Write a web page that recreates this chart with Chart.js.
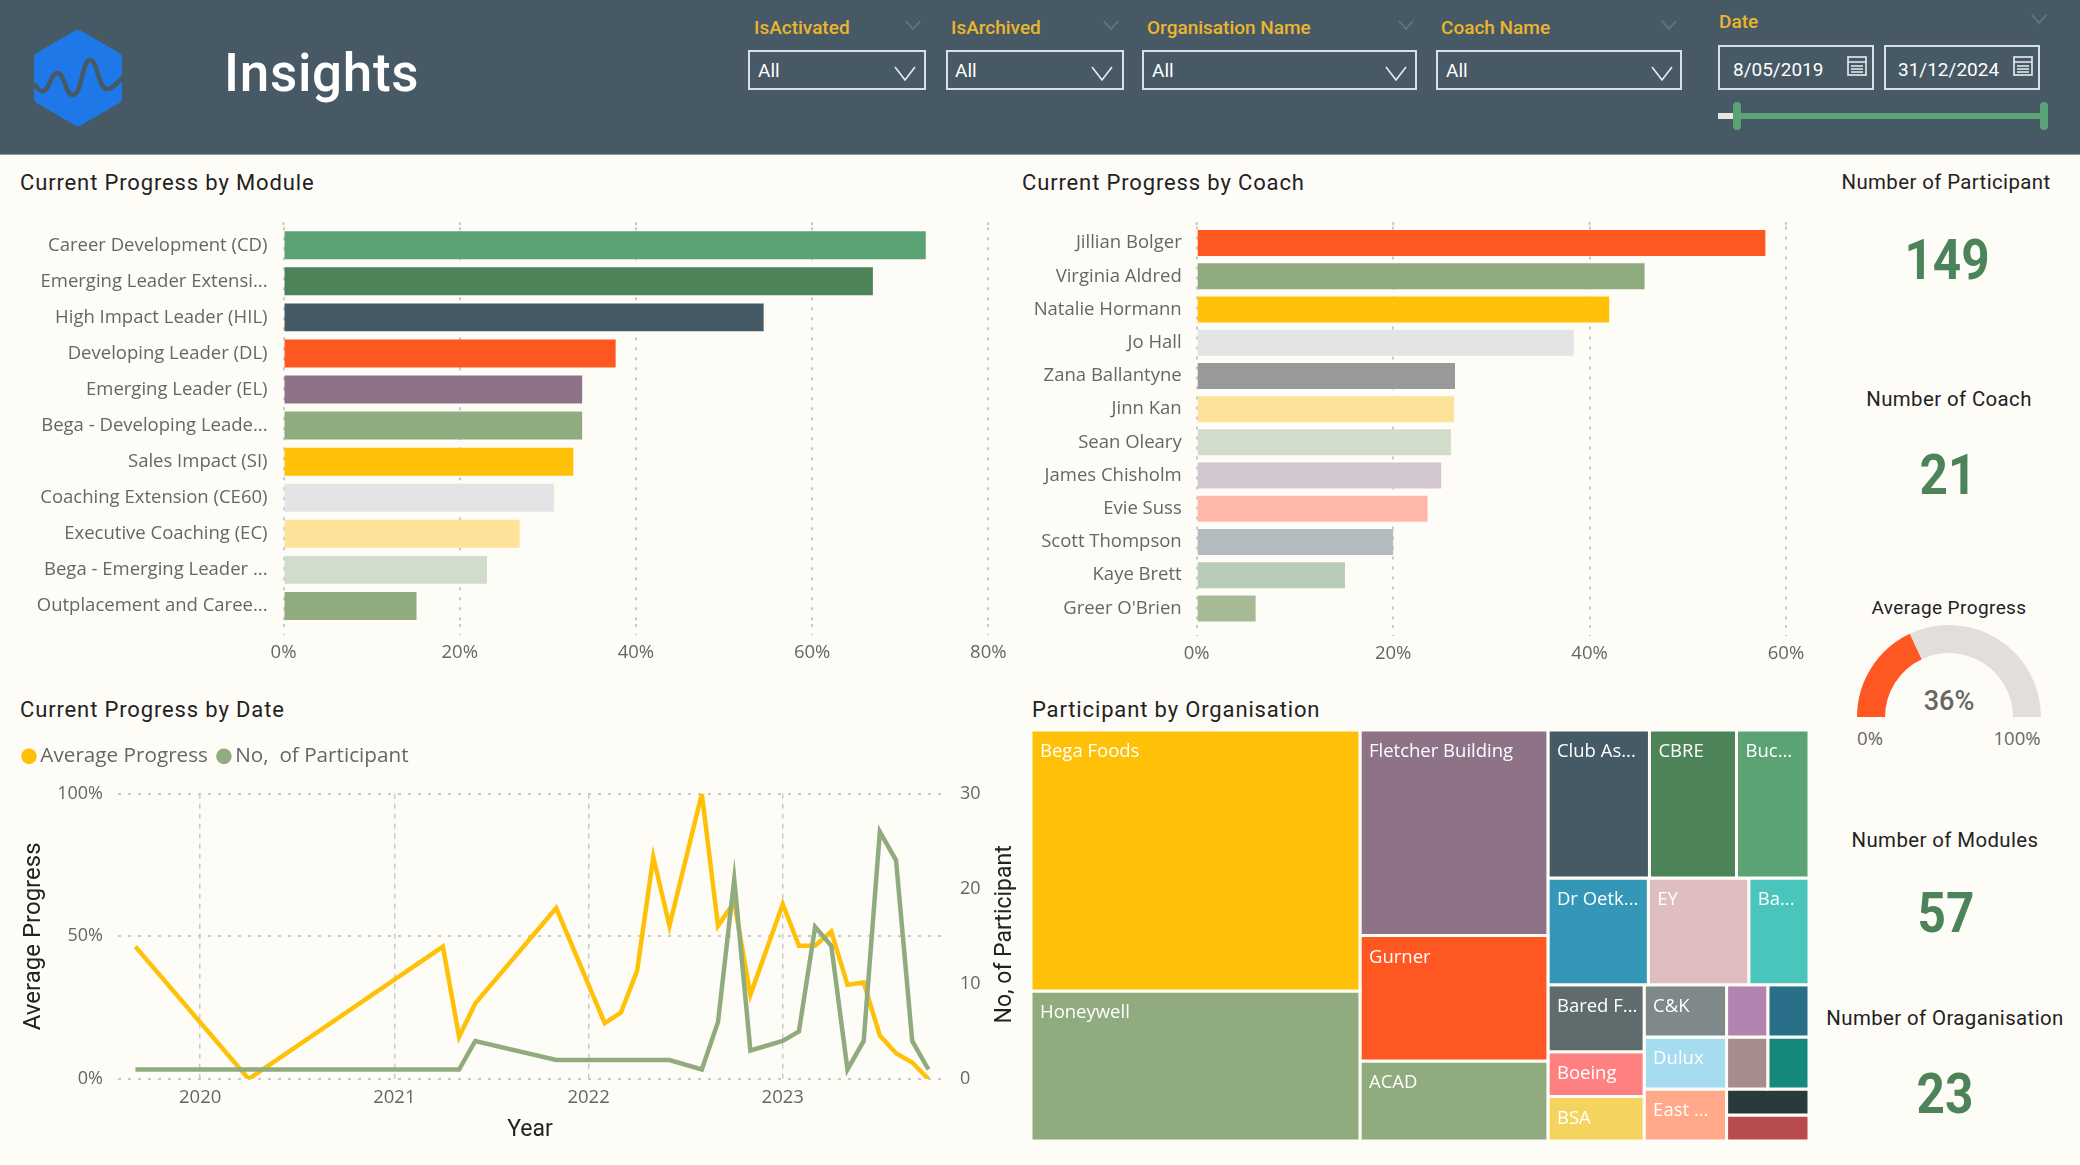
<!DOCTYPE html>
<html><head><meta charset="utf-8"><title>Insights</title>
<script src="https://cdn.jsdelivr.net/npm/chart.js@4"></script>
<style>
html,body{margin:0;padding:0;background:#FEFCF7;width:2080px;height:1165px;overflow:hidden}
body{position:relative;font-family:Roboto,sans-serif}
#hdr{position:absolute;left:0;top:0;width:2080px;height:154px;background:#475965;border-bottom:1px solid #8b98a1}
.a{position:absolute;white-space:nowrap}
.t{font:400 22px Roboto,sans-serif;color:#222;line-height:26px;letter-spacing:.86px}
.k{font:400 20.4px Roboto,sans-serif;color:#222;line-height:26px;letter-spacing:.4px}
.c{transform:translateX(-50%)}
.n{font:700 55px Roboto,sans-serif;color:#4C8358;line-height:60px;transform:translateX(-50%) scaleX(.9)}
.g{font:500 19px Roboto,sans-serif;color:#E9B62C;line-height:22px}
.b{border:2px solid #D8E0E4;box-sizing:border-box}
.w{font:400 19px Roboto,sans-serif;color:#fff;line-height:22px}
.x{font:400 18.5px "Open Sans",sans-serif;color:#666;line-height:24px}
canvas{position:absolute;display:block}
svg{position:absolute;overflow:visible}
</style></head><body>
<div id="hdr"></div>
<svg style="left:0;top:0" width="160" height="154"><path d="M78 36 L116 58 L116 98 L78 120 L40 98 L40 58 Z" fill="#1F78E8" stroke="#1F78E8" stroke-width="12" stroke-linejoin="round"/><path d="M34 83 C38 90 40 91 43 91 C49 91 51 73 57 73 C65 73 65 95 73 95 C82 95 82 60 90 60 C98 60 98 89 107 89 C113 89 118 82 123 77" fill="none" stroke="#475965" stroke-width="4.5"/></svg>
<div class="a" style="left:224px;top:42px;font:500 53px Roboto,sans-serif;color:#fff;line-height:62px;letter-spacing:.7px">Insights</div>

<div class="a g" style="left:754px;top:17px">IsActivated</div>
<div class="a g" style="left:951px;top:17px">IsArchived</div>
<div class="a g" style="left:1147px;top:17px">Organisation Name</div>
<div class="a g" style="left:1441px;top:17px">Coach Name</div>
<div class="a g" style="left:1719px;top:11px">Date</div>

<div class="a b" style="left:748px;top:50px;width:178px;height:40px"></div>
<div class="a b" style="left:946px;top:50px;width:178px;height:40px"></div>
<div class="a b" style="left:1142px;top:50px;width:275px;height:40px"></div>
<div class="a b" style="left:1436px;top:50px;width:246px;height:40px"></div>
<div class="a w" style="left:758px;top:60px">All</div>
<div class="a w" style="left:955px;top:60px">All</div>
<div class="a w" style="left:1152px;top:60px">All</div>
<div class="a w" style="left:1446px;top:60px">All</div>
<svg style="left:0;top:0" width="2080" height="154" fill="none" stroke-width="1.6">
<g stroke="#E8EDF0"><path d="M895 67l10 13 10-13M1092 67l10 13 10-13M1386 67l10 13 10-13M1652 67l10 13 10-13"/></g>
<g stroke="#647783"><path d="M906 21l7 8 7-8M1104 21l7 8 7-8M1399 21l7 8 7-8M1662 21l7 8 7-8M2032 15l7 8 7-8"/></g>
<g stroke="#E8EDF0"><rect x="1848" y="57" width="18" height="18"/><path d="M1848 62h18M1851 66h12M1851 69h12M1851 72h12"/><rect x="2014" y="57" width="18" height="18"/><path d="M2014 62h18M2017 66h12M2017 69h12M2017 72h12"/></g>
</svg>
<div class="a b" style="left:1718px;top:45px;width:156px;height:45px"></div>
<div class="a b" style="left:1884px;top:45px;width:156px;height:45px"></div>
<div class="a w" style="left:1733px;top:59px">8/05/2019</div>
<div class="a w" style="left:1898px;top:59px">31/12/2024</div>
<div class="a" style="left:1718px;top:113px;width:20px;height:6px;background:#E6E6E6"></div>
<div class="a" style="left:1737px;top:113px;width:310px;height:6px;background:#5BA375"></div>
<div class="a" style="left:1733px;top:102px;width:8px;height:28px;border-radius:4px;background:#5BA375"></div>
<div class="a" style="left:2040px;top:102px;width:8px;height:28px;border-radius:4px;background:#5BA375"></div>

<div class="a t" style="left:20px;top:170px">Current Progress by Module</div>
<div class="a t" style="left:1022px;top:170px">Current Progress by Coach</div>
<div class="a t" style="left:20px;top:697px">Current Progress by Date</div>
<div class="a t" style="left:1032px;top:697px">Participant by Organisation</div>
<div class="a k c" style="left:1946px;top:169px">Number of Participant</div>
<div class="a n" style="left:1947px;top:230px">149</div>
<div class="a k c" style="left:1949px;top:386px">Number of Coach</div>
<div class="a n" style="left:1948px;top:445px">21</div>
<div class="a k c" style="left:1949px;top:596px;font-size:19px;line-height:24px">Average Progress</div>
<div class="a c" style="left:1949px;top:685px;font:500 27px Roboto,sans-serif;color:#666;line-height:32px">36%</div>
<div class="a x c" style="left:1870px;top:726px">0%</div>
<div class="a x c" style="left:2017px;top:726px">100%</div>
<div class="a k c" style="left:1945px;top:827px">Number of Modules</div>
<div class="a n" style="left:1946px;top:883px">57</div>
<div class="a k c" style="left:1945px;top:1005px">Number of Oraganisation</div>
<div class="a n" style="left:1945px;top:1064px">23</div>

<canvas id="moduleChart" width="1015" height="460" style="left:0;top:215px"></canvas>
<canvas id="coachChart" width="800" height="460" style="left:1015px;top:215px"></canvas>
<canvas id="dateChart" width="1012" height="413" style="left:13px;top:731px"></canvas>
<canvas id="orgChart" width="778" height="411" style="left:1031px;top:730px"></canvas>
<canvas id="gaugeChart" width="184" height="92" style="left:1857px;top:625px"></canvas>

<script>
// ---- Module bars
const moduleNames = ["Career Development (CD)","Emerging Leader Extensi...","High Impact Leader (HIL)","Developing Leader (DL)","Emerging Leader (EL)","Bega - Developing Leade...","Sales Impact (SI)","Coaching Extension (CE60)","Executive Coaching (EC)","Bega - Emerging Leader ...","Outplacement and Caree..."];
const moduleProgress = [72.9,66.9,54.5,37.7,33.9,33.9,32.9,30.7,26.8,23.1,15.1];
const moduleColors = ["#5BA375","#4C8358","#465A66","#FF5722","#8E7388","#90AB7E","#FFC107","#E4E4E6","#FFE29A","#D2DCCB","#90AB7E"];
const moduleTicks = [0,20,40,60,80];
// ---- Coach bars
const coachNames = ["Jillian Bolger","Virginia Aldred","Natalie Hormann","Jo Hall","Zana Ballantyne","Jinn Kan","Sean Oleary","James Chisholm","Evie Suss","Scott Thompson","Kaye Brett","Greer O'Brien"];
const coachProgress = [57.9,45.6,42,38.4,26.3,26.2,25.9,24.9,23.5,20,15.1,6];
const coachColors = ["#FF5722","#90AB7E","#FFC107","#E3E4E4","#999999","#FFE29A","#D2DCCB","#D2C7D1","#FFB8A7","#B4BBBE","#B8CCB9","#A5BA95"];
const coachTicks = [0,20,40,60];
// ---- Progress by date
const dateMonths = ["2019-09","2020-04","2021-04","2021-05","2021-06","2021-11","2022-02","2022-03","2022-04","2022-05","2022-06","2022-08","2022-09","2022-10","2022-11","2023-01","2023-02","2023-03","2023-04","2023-05","2023-06","2023-07","2023-08","2023-09","2023-10"];
const avgProgress = [46.4,0,46.4,14.8,26.5,59.9,19.6,23.3,37.9,77.8,53.7,100,53.7,62,29.5,61.3,46.7,46.7,51.7,33,33.8,15.2,9,5.8,0];
const participants = [1,1,1,1,4,2,2,2,2,2,2,1,6,21,3,4,5,16,14,1,4,26,23,4,1];
const yearTicks = [2020,2021,2022,2023];
const progressTicks = [0,50,100];
const participantTicks = [0,10,20,30];
// ---- Treemap
const orgNames = ["Bega Foods","Honeywell","Fletcher Building","Gurner","ACAD","Club As...","CBRE","Buc...","Dr Oetk...","EY","Ba...","Bared F...","Boeing","BSA","C&K","Dulux","East ...","","","","","",""];
const orgValues = [40,23,18,11,7,7,6,5,5,5,3,3,2,2,2,2,2,1,1,1,1,1,1];
const orgColors = ["#FFC107","#90AB7E","#8E7388","#FF5722","#90AB7E","#465A66","#4C8358","#5BA375","#3497B7","#DEBEC1","#4AC5BC","#5F6B6D","#FF8080","#F4D35E","#7F898A","#A6DCEF","#FFA98A","#B283AE","#296F8A","#A68C8A","#14897C","#2A3A3B","#B84C4C"];
// nesting of the treemap (indexes into orgNames): columns of rows of columns
const orgTree = [[0,1],[2,3,4],[[5,6,7],[8,9,10],[[11,12,13],[14,15,16],[[17,18],[19,20],21,22]]]];
// ---- Gauge
const gaugeValue = [36,64];
const gaugeColors = ["#FF5722","#E2DFDA"];

const AX = '"Open Sans",sans-serif', BG = '#FEFCF7', GRID = '#C9C9C9', TXT = '#666666';

const gridTopExt = {id:'gridTopExt',beforeDatasetsDraw(c,_,o){
  const s=c.scales.x,ctx=c.ctx;ctx.save();ctx.strokeStyle=GRID;ctx.lineWidth=2;ctx.setLineDash([3,7]);
  s.ticks.forEach(t=>{const x=s.getPixelForValue(t.value);ctx.beginPath();ctx.moveTo(x,c.chartArea.top-o.ext);ctx.lineTo(x,c.chartArea.top);ctx.stroke();});
  ctx.restore();}};

function barChart(id,names,vals,cols,ticks,pct,yW,xH,padTop,padRight,ext,tickPad,fs){
  return new Chart(document.getElementById(id),{type:'bar',plugins:[gridTopExt],
    data:{labels:names,datasets:[{data:vals,backgroundColor:cols,barPercentage:pct,categoryPercentage:1}]},
    options:{indexAxis:'y',responsive:false,animation:false,devicePixelRatio:1,
      layout:{autoPadding:false,padding:{top:padTop,right:padRight,left:0,bottom:0}},
      plugins:{legend:{display:false},tooltip:{enabled:false},gridTopExt:{ext}},
      scales:{
        y:{afterFit(s){s.width=yW;s.paddingTop=0;s.paddingBottom=0;s.getPadding=()=>({left:0,right:0,top:0,bottom:0});},grid:{display:false,drawTicks:false},border:{display:false},
           ticks:{autoSkip:false,padding:tickPad,color:TXT,font:{family:AX,size:fs}}},
        x:{min:ticks[0],max:ticks[ticks.length-1],afterFit(s){s.height=xH;},
           afterBuildTicks(s){s.ticks=ticks.map(v=>({value:v}));},
           border:{display:false,dash:[3,7]},
           grid:{color:GRID,lineWidth:2,tickLength:11,tickColor:GRID,tickWidth:2,tickBorderDash:[3,7]},
           ticks:{padding:6.5,color:TXT,font:{family:AX,size:18.5},maxRotation:0,callback:v=>v+'%'}}
      }}});
}
barChart('moduleChart',moduleNames,moduleProgress,moduleColors,moduleTicks,0.775,283.5,51,12.2,26.7,5,16,18.5);
barChart('coachChart',coachNames,coachProgress,coachColors,coachTicks,0.782,181.7,50,11.5,29,4.5,15,18.5);

const legendSpacer = {id:'legendSpacer',beforeInit(c){const f=c.legend.fit;c.legend.fit=function(){f.call(this);this.height+=17;};}};
const rightTitle = {id:'rightTitle',afterDraw(c,_,o){
  const s=c.scales.y1,ctx=c.ctx;ctx.save();ctx.translate(s.right-20,(s.top+s.bottom)/2-2);ctx.rotate(-Math.PI/2);
  ctx.fillStyle='#222';ctx.font='23px Roboto';ctx.textAlign='center';ctx.textBaseline='middle';ctx.fillText(o.text,0,0);ctx.restore();}};
const toYear = m=>{const [y,mo]=m.split('-').map(Number);return y+(mo-1)/12;};
new Chart(document.getElementById('dateChart'),{type:'line',plugins:[legendSpacer,rightTitle],
  data:{datasets:[
    {label:'Average Progress',data:dateMonths.map((m,i)=>({x:toYear(m),y:avgProgress[i]})),borderColor:'#FFC107',backgroundColor:'#FFC107',borderWidth:4.5,pointRadius:0,tension:0,yAxisID:'y',order:1},
    {label:'No,  of Participant',data:dateMonths.map((m,i)=>({x:toYear(m),y:participants[i]})),borderColor:'#90AB7E',backgroundColor:'#90AB7E',borderWidth:4.5,pointRadius:0,tension:0,yAxisID:'y1',order:0}
  ]},
  options:{responsive:false,animation:false,devicePixelRatio:1,parsing:false,
    layout:{autoPadding:false,padding:0},
    plugins:{tooltip:{enabled:false},rightTitle:{text:'No, of Participant'},
      legend:{position:'top',align:'start',labels:{usePointStyle:true,boxHeight:11,boxWidth:2,padding:15,color:TXT,font:{family:AX,size:20.7},
        sort:(a,b)=>a.datasetIndex-b.datasetIndex,
        generateLabels:c=>Chart.defaults.plugins.legend.labels.generateLabels(c).map(i=>({...i,lineWidth:0}))}}},
    scales:{
      x:{type:'linear',min:2019.577,max:2023.82,afterBuildTicks(s){s.ticks=yearTicks.map(v=>({value:v}));},
         border:{display:false,dash:[5,5]},
         grid:{color:GRID,lineWidth:1.5,drawTicks:false},
         ticks:{padding:8,color:TXT,font:{family:AX,size:18.5},maxRotation:0,callback:v=>String(v)},
         afterFit(s){s.height=65;},
         title:{display:true,text:'Year',color:'#222',font:{family:'Roboto',size:23},padding:{top:4,bottom:0}}},
      y:{position:'left',min:0,max:100,afterBuildTicks(s){s.ticks=progressTicks.map(v=>({value:v}));},afterFit(s){s.width=105;},
         border:{display:false,dash:[3,7]},
         grid:{color:GRID,lineWidth:2,drawTicks:false},
         ticks:{padding:15,color:TXT,font:{family:AX,size:18},callback:v=>v+'%'},
         title:{display:true,text:'Average Progress',color:'#222',font:{family:'Roboto',size:24},padding:{top:7,bottom:0}}},
      y1:{position:'right',min:0,max:30,afterBuildTicks(s){s.ticks=participantTicks.map(v=>({value:v}));},afterFit(s){s.width=83;},
         border:{display:false},grid:{display:false,drawTicks:false},
         ticks:{padding:18,color:TXT,font:{family:AX,size:18}}}
    }}});

// slice-and-dice the nested structure by value; cells come out in value space
function weight(n){return Array.isArray(n)?n.reduce((s,k)=>s+weight(k),0):orgValues[n];}
function place(n,x0,y0,x1,y1,horizontal,out){
  if(!Array.isArray(n)){out[n]=[x0,y0,x1,y1];return out;}
  const tot=weight(n);let pos=horizontal?x0:y0;
  n.forEach(k=>{const f=weight(k)/tot;
    if(horizontal){const e=pos+(x1-x0)*f;place(k,pos,y0,e,y1,false,out);pos=e;}
    else{const e=pos+(y1-y0)*f;place(k,x0,pos,x1,e,true,out);pos=e;}});
  return out;
}
const orgTotal = weight(orgTree);
const orgCells = place(orgTree,0,0,orgTotal,orgTotal,true,[]);
const treeLabels = {id:'treeLabels',afterDatasetsDraw(c){
  const ctx=c.ctx;ctx.save();ctx.fillStyle='#fff';ctx.font='18.5px '+AX;ctx.textBaseline='middle';
  orgNames.forEach((n,i)=>{if(!n)return;const q=orgCells[i];
    ctx.fillText(n,c.scales.x.getPixelForValue(q[0])+9,c.scales.y.getPixelForValue(q[1])+22);});
  ctx.restore();}};
new Chart(document.getElementById('orgChart'),{type:'scatter',plugins:[treeLabels],
  data:{datasets:orgCells.map((q,i)=>({label:orgNames[i],
    data:[{x:q[0],y:q[1]},{x:q[2],y:q[1]},{x:q[2],y:q[3]},{x:q[0],y:q[3]},{x:q[0],y:q[1]}],
    showLine:true,fill:'shape',backgroundColor:orgColors[i],borderColor:BG,borderWidth:3,pointRadius:0,tension:0}))},
  options:{responsive:false,animation:false,devicePixelRatio:1,layout:{autoPadding:false,padding:0},
    plugins:{legend:{display:false},tooltip:{enabled:false}},
    scales:{x:{display:false,min:0,max:orgTotal},y:{display:false,min:0,max:orgTotal,reverse:true}}}});

new Chart(document.getElementById('gaugeChart'),{type:'doughnut',
  data:{datasets:[{data:gaugeValue,backgroundColor:gaugeColors,borderWidth:0}]},
  options:{responsive:false,animation:false,devicePixelRatio:1,rotation:-90,circumference:180,cutout:'69.5%',
    plugins:{legend:{display:false},tooltip:{enabled:false}}}});
</script>
</body></html>
